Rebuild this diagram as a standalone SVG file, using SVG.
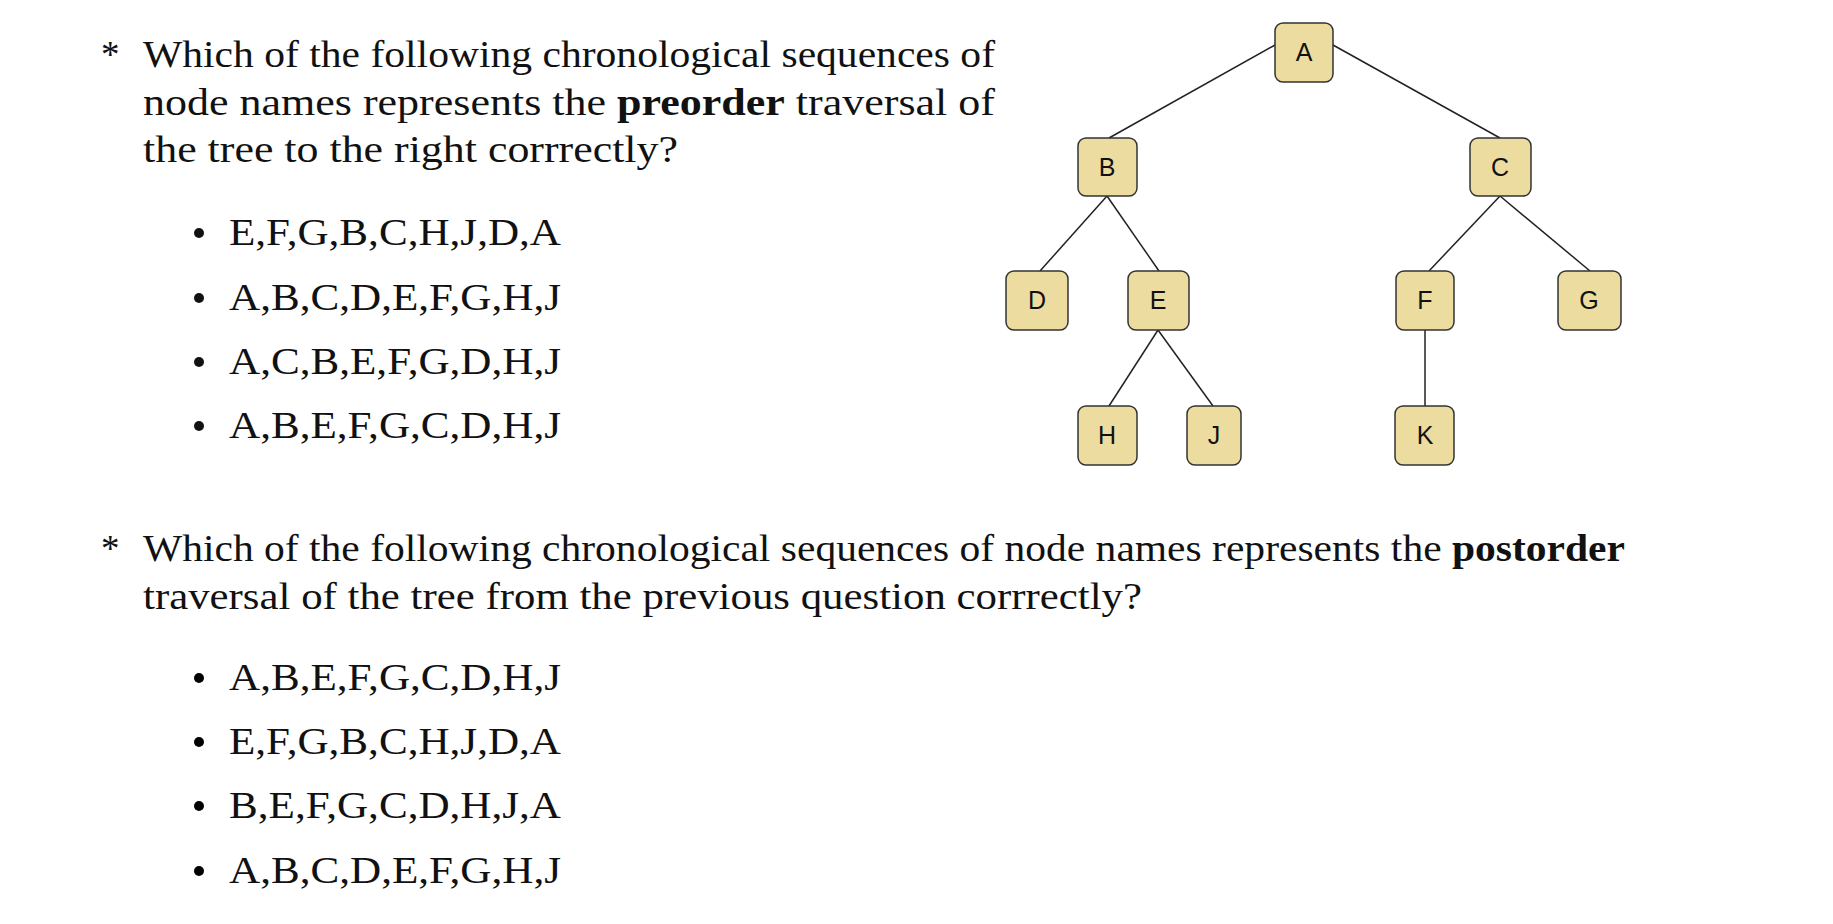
<svg xmlns="http://www.w3.org/2000/svg" width="1833" height="924" viewBox="0 0 1833 924">
<style>
.t{font-family:"Liberation Serif",serif;font-size:37px;fill:#111}
.b{font-weight:bold}
.n rect{fill:#ecdc9f;stroke:#333;stroke-width:1.5}
.n text{font-family:"Liberation Sans",Arial,sans-serif;font-size:25px;fill:#111;text-anchor:middle}
.e line{stroke:#222;stroke-width:1.5}
</style>
<rect width="1833" height="924" fill="#fff"/>
<g id="text">
<text class="t" x="101" y="67">*</text>
<text class="t" x="143" y="67" textLength="852" lengthAdjust="spacingAndGlyphs">Which of the following chronological sequences of</text>
<text class="t" x="143" y="115" textLength="852" lengthAdjust="spacingAndGlyphs">node names represents the <tspan class="b">preorder</tspan> traversal of</text>
<text class="t" x="143" y="162" textLength="535" lengthAdjust="spacingAndGlyphs">the tree to the right corrrectly?</text>
<g class="t">
<circle cx="199" cy="233" r="5"/><text class="t" x="229" y="245" textLength="332" lengthAdjust="spacingAndGlyphs">E,F,G,B,C,H,J,D,A</text>
<circle cx="199" cy="298" r="5"/><text class="t" x="229" y="310" textLength="332" lengthAdjust="spacingAndGlyphs">A,B,C,D,E,F,G,H,J</text>
<circle cx="199" cy="362" r="5"/><text class="t" x="229" y="374" textLength="332" lengthAdjust="spacingAndGlyphs">A,C,B,E,F,G,D,H,J</text>
<circle cx="199" cy="426" r="5"/><text class="t" x="229" y="438" textLength="332" lengthAdjust="spacingAndGlyphs">A,B,E,F,G,C,D,H,J</text>
</g>
<text class="t" x="101" y="561">*</text>
<text class="t" x="143" y="561" textLength="1482" lengthAdjust="spacingAndGlyphs">Which of the following chronological sequences of node names represents the <tspan class="b">postorder</tspan></text>
<text class="t" x="143" y="609" textLength="999" lengthAdjust="spacingAndGlyphs">traversal of the tree from the previous question corrrectly?</text>
<circle cx="199" cy="678" r="5"/><text class="t" x="229" y="690" textLength="332" lengthAdjust="spacingAndGlyphs">A,B,E,F,G,C,D,H,J</text>
<circle cx="199" cy="742" r="5"/><text class="t" x="229" y="754" textLength="332" lengthAdjust="spacingAndGlyphs">E,F,G,B,C,H,J,D,A</text>
<circle cx="199" cy="806" r="5"/><text class="t" x="229" y="818" textLength="332" lengthAdjust="spacingAndGlyphs">B,E,F,G,C,D,H,J,A</text>
<circle cx="199" cy="871" r="5"/><text class="t" x="229" y="883" textLength="332" lengthAdjust="spacingAndGlyphs">A,B,C,D,E,F,G,H,J</text>
</g>
<g id="edges" class="e">
<line x1="1275" y1="45" x2="1109" y2="138"/>
<line x1="1333" y1="45" x2="1500" y2="138"/>
<line x1="1107" y1="196" x2="1040" y2="271"/>
<line x1="1107" y1="196" x2="1159" y2="271"/>
<line x1="1500" y1="196" x2="1429" y2="271"/>
<line x1="1500" y1="196" x2="1590" y2="271"/>
<line x1="1158" y1="330" x2="1109" y2="406"/>
<line x1="1158" y1="330" x2="1213" y2="406"/>
<line x1="1425" y1="330" x2="1425" y2="406"/>
</g>
<g id="A" class="n"><rect x="1275" y="23" width="58" height="59" rx="8"/><text x="1304" y="61">A</text></g>
<g id="B" class="n"><rect x="1078" y="138" width="59" height="58" rx="8"/><text x="1107" y="176">B</text></g>
<g id="C" class="n"><rect x="1470" y="138" width="61" height="58" rx="8"/><text x="1500" y="176">C</text></g>
<g id="D" class="n"><rect x="1006" y="271" width="62" height="59" rx="8"/><text x="1037" y="309">D</text></g>
<g id="E" class="n"><rect x="1128" y="271" width="61" height="59" rx="8"/><text x="1158" y="309">E</text></g>
<g id="F" class="n"><rect x="1396" y="271" width="58" height="59" rx="8"/><text x="1425" y="309">F</text></g>
<g id="G" class="n"><rect x="1558" y="271" width="63" height="59" rx="8"/><text x="1589" y="309">G</text></g>
<g id="H" class="n"><rect x="1078" y="406" width="59" height="59" rx="8"/><text x="1107" y="444">H</text></g>
<g id="J" class="n"><rect x="1187" y="406" width="54" height="59" rx="8"/><text x="1214" y="444">J</text></g>
<g id="K" class="n"><rect x="1395" y="406" width="59" height="59" rx="8"/><text x="1425" y="444">K</text></g>
</svg>
